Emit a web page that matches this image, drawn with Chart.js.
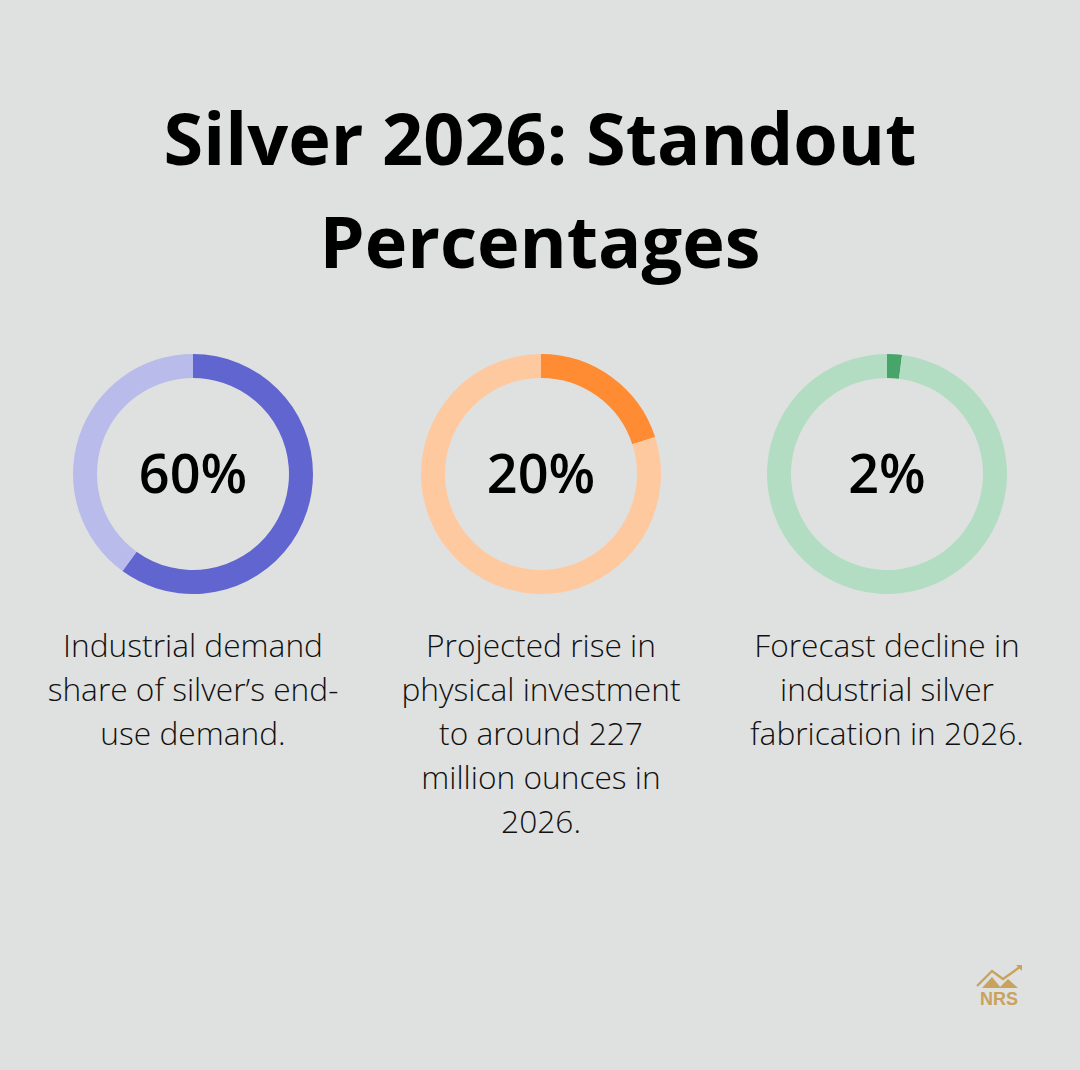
<!DOCTYPE html>
<html lang="en">
<head>
<meta charset="UTF-8">
<title>Silver 2026: Standout Percentages</title>
<script src="https://cdn.jsdelivr.net/npm/chart.js"></script>
<style>
  html, body { margin: 0; padding: 0; }
  body { width: 1080px; height: 1070px; background: #dfe1e0; position: relative; overflow: hidden; font-family: "Open Sans", sans-serif; }
  h1 { position: absolute; left: 0; top: 86px; width: 1080px; margin: 0; text-align: center; font-size: 72px; font-weight: 700; line-height: 103px; color: #000; }
  .ring { position: absolute; width: 240px; height: 240px; top: 354px; }
  .desc { position: absolute; top: 623px; width: 360px; text-align: center; font-size: 31.7px; font-weight: 300; line-height: 44px; color: #111; }
  .logo { position: absolute; left: 974px; top: 964px; }
</style>
</head>
<body>
<h1>Silver 2026: Standout<br>Percentages</h1>

<div class="ring" style="left:73px"><canvas id="c0"></canvas></div>
<div class="ring" style="left:421px"><canvas id="c1"></canvas></div>
<div class="ring" style="left:767px"><canvas id="c2"></canvas></div>

<div class="desc" id="d0" style="left:13px"></div>
<div class="desc" id="d1" style="left:361px"></div>
<div class="desc" id="d2" style="left:707px"></div>

<svg class="logo" width="52" height="44" viewBox="0 0 52 44">
  <polyline points="3,22 18,7 29,15 39,8 47,2" fill="none" stroke="#c9a25e" stroke-width="2.4"/>
  <polygon points="48,1 42,1 48,7" fill="#c9a25e"/>
  <polygon points="8,24 18,13 27,24" fill="#c9a25e"/>
  <polygon points="25,24 34,15 44,24" fill="#c9a25e"/>
  <text x="25" y="41" text-anchor="middle" font-family="Liberation Sans, Arial, sans-serif" font-weight="700" font-size="18" fill="#c9a25e">NRS</text>
</svg>

<script>
// values
const percents = [60, 20, 2];
const centerLabels = ['60%', '20%', '2%'];
const mainColors = ['#6065d0', '#ff8b33', '#47a56a'];
const restColors = ['#b9bbea', '#ffc9a0', '#b2ddc2'];
const descriptions = [
  ['Industrial demand', 'share of silver\u2019s end-', 'use demand.'],
  ['Projected rise in', 'physical investment', 'to around 227', 'million ounces in', '2026.'],
  ['Forecast decline in', 'industrial silver', 'fabrication in 2026.']
];

// draws the big number in the middle of each ring
const centerText = {
  id: 'centerText',
  afterDraw(chart) {
    const meta = chart.getDatasetMeta(0).data[0];
    const ctx = chart.ctx;
    ctx.save();
    ctx.font = '600 54px "Open Sans"';
    ctx.fillStyle = '#000';
    ctx.textAlign = 'center';
    ctx.textBaseline = 'alphabetic';
    ctx.fillText(chart.options.plugins.centerText.text, meta.x, meta.y + 19);
    ctx.restore();
  }
};

percents.forEach((p, i) => {
  new Chart(document.getElementById('c' + i), {
    type: 'doughnut',
    data: {
      labels: ['value', 'rest'],
      datasets: [{
        data: [p, 100 - p],
        backgroundColor: [mainColors[i], restColors[i]],
        borderWidth: 0
      }]
    },
    options: {
      responsive: true,
      maintainAspectRatio: false,
      animation: false,
      cutout: '80%',
      plugins: {
        legend: { display: false },
        tooltip: { enabled: false },
        centerText: { text: centerLabels[i] }
      }
    },
    plugins: [centerText]
  });
  document.getElementById('d' + i).innerHTML = descriptions[i].join('<br>');
});
</script>
</body>
</html>
